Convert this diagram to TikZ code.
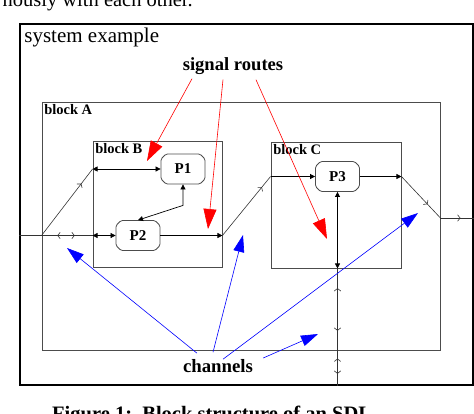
\documentclass[tikz,border=0pt]{standalone}
\usepackage{fontspec}
\setmainfont{Liberation Serif}
\usetikzlibrary{arrows.meta,positioning,calc,shapes.misc,decorations.markings}

\newcommand{\chevf}{\arrow{Straight Barb[length=2.5pt,width=6.5pt,line width=0.6pt]}}
\newcommand{\chevb}{\arrowreversed{Straight Barb[length=2.5pt,width=6.5pt,line width=0.6pt]}}

\tikzset{
  blk/.style={draw=black!70, line width=0.9pt, inner sep=0pt},
  lbl/.style={anchor=north west, inner sep=2.5pt, font=\bfseries\fontsize{14.5}{16}\selectfont},
  proc/.style={chamfered rectangle, chamfered rectangle xsep=2.5pt, chamfered rectangle ysep=2.5pt,
    draw=black!70, line width=0.8pt, minimum width=44pt, minimum height=30pt, inner sep=0pt,
    rounded corners=1.5pt, font=\bfseries\fontsize{15}{17}\selectfont},
  sig/.style={line width=0.7pt, -{Triangle[length=5pt,width=5pt]}},
  sigb/.style={line width=0.7pt, {Triangle[length=5pt,width=5pt]}-{Triangle[length=5pt,width=5pt]}},
  chan/.style={line width=0.6pt, black!80, postaction={decorate}},
  redarr/.style={red, line width=0.6pt, -{Triangle[length=20pt,width=13pt]}},
  bluearr/.style={blue, line width=0.6pt, -{Triangle[length=17pt,width=11pt]}}
}

\begin{document}
\begin{tikzpicture}[x=1pt,y=-1pt]
  \useasboundingbox (0,0) rectangle (474,413);
  \clip (0,0) rectangle (474,413);

  \node[anchor=base east, inner sep=0pt, font=\fontsize{20.5}{22}\selectfont] (prev) at (193,6) {nously with each other.};
  \node[anchor=base west, inner sep=0pt, font=\bfseries\fontsize{20.5}{22}\selectfont] (cap) at (52,420) {Figure 1:\ \ Block structure of an SDL};

  \node[blk, draw=black, line width=1.6pt, minimum width=453pt, minimum height=361pt] (system) at (246.5,204.5) {};
  \node[anchor=north west, inner sep=5pt, font=\fontsize{21}{23}\selectfont] (sysl) at (system.north west) {system example};

  \node[blk, minimum width=398pt, minimum height=248pt] (blockA) at (241,226) {};
  \node[lbl] (lblA) at (blockA.north west) {block A};
  \node[blk, minimum width=129pt, minimum height=126pt] (blockB) at (157.5,204) {};
  \node[lbl] (lblB) at (blockB.north west) {block B};
  \node[blk, minimum width=130pt, minimum height=126pt] (blockC) at (336,205) {};
  \node[lbl] (lblC) at (blockC.north west) {block C};

  \node[proc] (P1) at (183,169) {P1};
  \node[proc] (P2) at (138,235.5) {P2};
  \node[proc] (P3) at (337.5,176.5) {P3};

  \draw[sigb] (P1.west -| blockB.west) -- (P1.west);
  \draw[sigb] (P2.west -| blockB.west) -- (P2.west);
  \draw[sig] (P2.east) -- (P2.east -| blockB.east);
  \draw[sigb] (P1.south) -- ++(0,21) -- (P2.north);
  \draw[sig] (P3.west -| blockC.west) -- (P3.west);
  \draw[sig] (P3.east) -- (P3.east -| blockC.east);
  \draw[sigb] (P3.south) -- (P3.south |- blockC.south);

  \coordinate (exitA) at ($(blockA.east |- P3)+(0,41.5)$);
  \draw[chan] (system.west |- P2) -- (blockA.west |- P2);
  \draw[chan, decoration={markings, mark=at position 0.31 with {\chevb}, mark=at position 0.65 with {\chevf}}]
    (blockA.west |- P2) -- (blockB.west |- P2);
  \draw[chan, decoration={markings, mark=at position 0.78 with {\chevf}}]
    (blockA.west |- P2) -- (blockB.west |- P1);
  \draw[chan, decoration={markings, mark=at position 0.82 with {\chevf}}]
    (blockB.east |- P2) -- (blockC.west |- P3);
  \draw[chan, decoration={markings, mark=at position 0.67 with {\chevf}}]
    (blockC.east |- P3) -- (exitA);
  \draw[chan, decoration={markings, mark=at position 0.6 with {\chevf}}]
    (exitA) -- (exitA -| system.east);
  \draw[chan, decoration={markings, mark=at position 0.24 with {\chevb}, mark=at position 0.76 with {\chevf}}]
    (P3.south |- blockC.south) -- (P3.south |- blockA.south);
  \draw[chan, decoration={markings, mark=at position 0.23 with {\chevb}, mark=at position 0.66 with {\chevf}}]
    (P3.south |- blockA.south) -- (P3.south |- system.south);

  \node[inner sep=0pt, font=\bfseries\fontsize{18.6}{20}\selectfont] (sigr) at (233,66) {signal routes};
  \coordinate (r1) at (147,161);
  \coordinate (r2) at (208,229);
  \coordinate (r3) at (327,239);
  \draw[redarr] ($(sigr.south)+(-41,4)$) -- (r1);
  \draw[redarr] ($(sigr.south)+(-10,5)$) -- (r2);
  \draw[redarr] ($(sigr.south)+(23,5)$) -- (r3);

  \node[inner sep=0pt, font=\bfseries\fontsize{18.8}{20}\selectfont] (chn) at (218,366) {channels};
  \coordinate (b1) at (67,248);
  \coordinate (b2) at (243,235);
  \coordinate (b3) at (418,213);
  \coordinate (b4) at (318,334);
  \draw[bluearr] ($(chn.north)+(-21,-6)$) -- (b1);
  \draw[bluearr] ($(chn.north)+(-5,-7)$) -- (b2);
  \draw[bluearr] ($(chn.north)+(5,0)$) -- (b3);
  \draw[bluearr] ($(chn.east)+(10,-8)$) -- (b4);
\end{tikzpicture}
\end{document}
